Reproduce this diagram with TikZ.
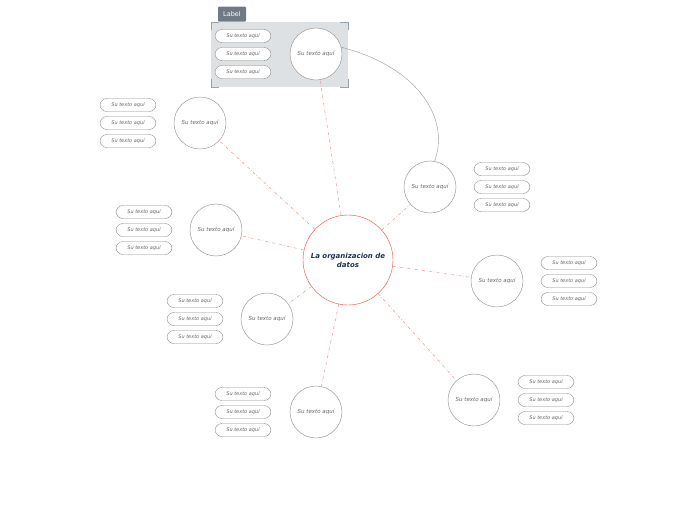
\documentclass[tikz,border=0pt]{standalone}
\usepackage{fontspec}
\setmainfont{DejaVu Sans}
\usetikzlibrary{arrows.meta}
\definecolor{boxg}{HTML}{DDE1E3}
\definecolor{tabg}{HTML}{6F7A84}
\definecolor{cred}{HTML}{E8483C}
\definecolor{ctext}{HTML}{1E3250}
\begin{document}
\begin{tikzpicture}[x=1pt,y=-1pt,
 sat/.style={circle,draw=black!45,fill=white,minimum size=52pt,inner sep=0pt,font=\fontsize{5.5}{6}\itshape\selectfont,text=black!60},
 pill/.style={rounded corners=7pt,draw=black!45,fill=white,minimum width=56pt,minimum height=13pt,inner sep=0pt,font=\fontsize{5}{6}\itshape\selectfont,text=black!60},
 link/.style={draw=cred!60!white,dash dot,line width=0.5pt}]
\useasboundingbox (0,0) rectangle (697,520);
\fill[boxg] (211,22) rectangle (348,87);
\draw[tabg!70,line width=1pt] (211,30)--(211,22)--(219,22) (340,22)--(348,22)--(348,30) (211,79)--(211,87)--(219,87) (340,87)--(348,87)--(348,79);
\node[fill=tabg,text=white,font=\fontsize{6.5}{7}\selectfont,minimum width=28pt,minimum height=15pt,inner sep=0pt,rounded corners=1pt] (lab) at (232,14) {Label};
\node[circle,draw=cred,fill=white,minimum size=90pt,inner sep=0pt,align=center,font=\fontsize{7}{9}\bfseries\itshape\selectfont,text=ctext] (c) at (348,260) {La organizacion de\\datos};
\foreach \n/\x/\y/\px in {a/316/54/243,b/200/123/128,d/430/187/502,e/216/230/144,f/497/281/569,g/267/319/195,h/474/400/546,i/316/412/243}{
 \node[sat] (\n) at (\x,\y) {Su texto aquí};
 \draw[link] (c) -- (\n);
 \node[pill] (\n1) at (\px,\y-18) {Su texto aquí};
 \node[pill] (\n2) at (\px,\y) {Su texto aquí};
 \node[pill] (\n3) at (\px,\y+18) {Su texto aquí};
}
\draw[black!40,-{Stealth[length=2pt]}] (d.80) .. controls (450,120) and (420,68) .. (a.15);
\end{tikzpicture}
\end{document}
